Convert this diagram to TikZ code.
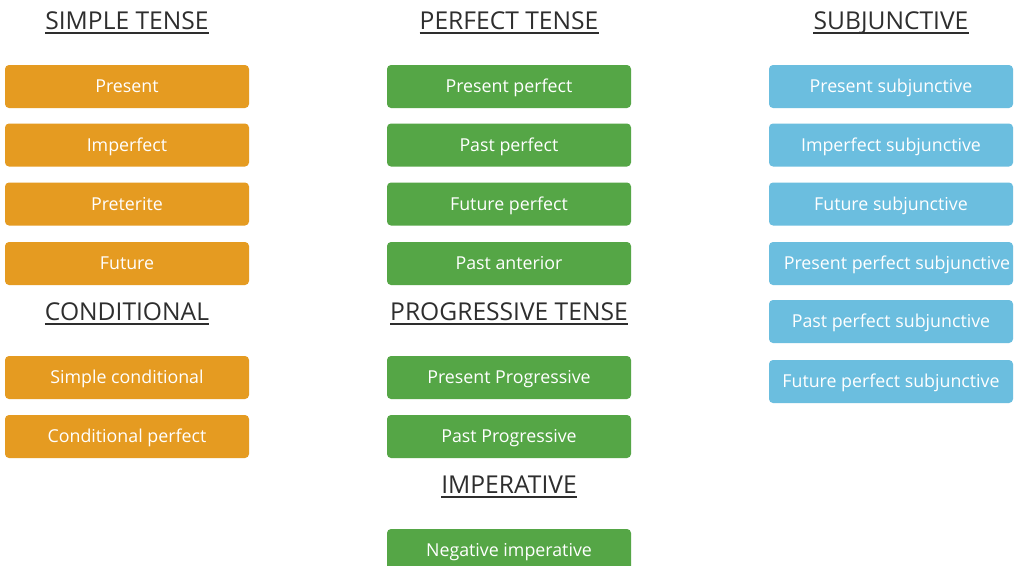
\documentclass[tikz,border=0pt]{standalone}
\usepackage{fontspec}
\setmainfont{Open Sans}
\definecolor{corange}{HTML}{E59B21}
\definecolor{cgreen}{HTML}{55A646}
\definecolor{cblue}{HTML}{6BBEDF}
\definecolor{chead}{HTML}{2E2E2E}
\begin{document}
\begin{tikzpicture}[x=1pt,y=-1pt,
  tbox/.style={rounded corners=4pt, minimum width=244pt, minimum height=43pt, inner sep=0pt,
    text height=12.8pt, text depth=0pt,
    text=white, font=\fontsize{17.8}{20}\selectfont},
  obox/.style={tbox, fill=corange},
  gbox/.style={tbox, fill=cgreen},
  bbox/.style={tbox, fill=cblue},
  head/.style={anchor=base, text=chead, inner sep=0pt, font=\fontsize{24.6}{28}\selectfont},
  uline/.style={draw=chead, line width=1.6pt}]
\useasboundingbox (0,0) rectangle (1024,565);
\fill[white] (0,0) rectangle (1024,565);
% headings
\node[head] (h1) at (127,29) {SIMPLE TENSE};
\node[head] (h2) at (509,29) {PERFECT TENSE};
\node[head] (h3) at (891,29) {SUBJUNCTIVE};
\node[head] (h4) at (127,320) {CONDITIONAL};
\node[head] (h5) at (509,320) {PROGRESSIVE TENSE};
\node[head] (h6) at (509,493) {IMPERATIVE};
\foreach \h in {h1,h2,h3,h4,h5,h6}{
  \draw[uline] ([yshift=-4pt]\h.base west) -- ([yshift=-4pt]\h.base east);
}
% left column
\node[obox] (l1) at (127,86.5) {Present};
\node[obox] (l2) at (127,145) {Imperfect};
\node[obox] (l3) at (127,204) {Preterite};
\node[obox] (l4) at (127,263.5) {Future};
\node[obox] (l5) at (127,377.5) {Simple conditional};
\node[obox] (l6) at (127,436.5) {Conditional perfect};
% middle column
\node[gbox] (m1) at (509,86.5) {Present perfect};
\node[gbox] (m2) at (509,145) {Past perfect};
\node[gbox] (m3) at (509,204) {Future perfect};
\node[gbox] (m4) at (509,263.5) {Past anterior};
\node[gbox] (m5) at (509,377.5) {Present Progressive};
\node[gbox] (m6) at (509,436.5) {Past Progressive};
\node[gbox] (m7) at (509,550.5) {Negative imperative};
% right column
\node[bbox] (r1) at (891,86.5) {Present subjunctive};
\node[bbox] (r2) at (891,145) {Imperfect subjunctive};
\node[bbox] (r3) at (891,204) {Future subjunctive};
\node[bbox] (r4) at (891,263.5) {\hspace{12pt}Present perfect subjunctive};
\node[bbox] (r5) at (891,321.5) {Past perfect subjunctive};
\node[bbox] (r6) at (891,381.5) {Future perfect subjunctive};
\end{tikzpicture}
\end{document}
